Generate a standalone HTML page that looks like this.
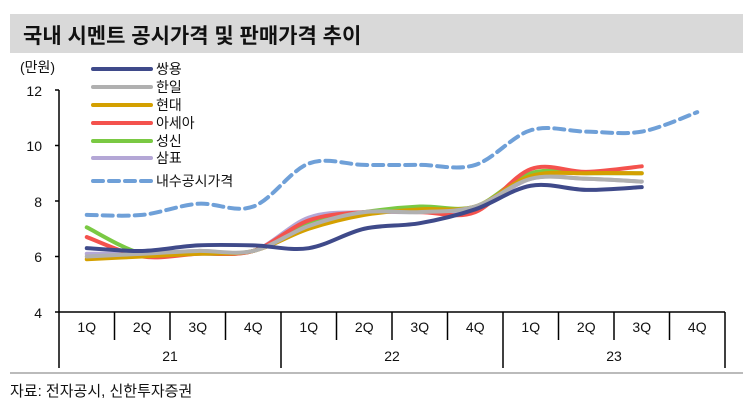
<!DOCTYPE html><html><head><meta charset="utf-8"><style>
body{margin:0;width:743px;height:411px;background:#fff;overflow:hidden;font-family:"Liberation Sans","Noto Sans CJK KR",sans-serif}
</style></head><body>
<svg id="s" width="743" height="411" xmlns="http://www.w3.org/2000/svg" font-family="Liberation Sans, Noto Sans CJK KR, sans-serif">
<rect x="10" y="14" width="733" height="39" fill="#d9d9d9"/>
<text x="23" y="43" font-size="21" font-weight="bold" fill="#111">국내 시멘트 공시가격 및 판매가격 추이</text>
<text x="20" y="72" font-size="14" fill="#111">(만원)</text>
<g font-size="14" fill="#111" text-anchor="end">
<text x="42" y="96">12</text><text x="42" y="151">10</text><text x="42" y="207">8</text><text x="42" y="262">6</text><text x="42" y="318">4</text></g>
<g stroke="#000" stroke-width="1.5" fill="none">
<line x1="59" y1="90" x2="59" y2="368"/><line x1="55" y1="90" x2="59" y2="90"/>
<line x1="55" y1="145.5" x2="59" y2="145.5"/><line x1="55" y1="201" x2="59" y2="201"/><line x1="55" y1="256.5" x2="59" y2="256.5"/>
<line x1="55" y1="312" x2="725" y2="312"/>
<line x1="725" y1="312" x2="725" y2="368"/>
<line x1="281" y1="312" x2="281" y2="368"/><line x1="503" y1="312" x2="503" y2="368"/>
</g>
<g id="ticks"></g>
<line x1="10" y1="373" x2="743" y2="373" stroke="#bbb" stroke-width="2"/>
<text x="10" y="396" font-size="15" fill="#111">자료: 전자공시, 신한투자증권</text>
<g id="lines"></g>
<g id="leg" font-size="14" fill="#111"></g>
</svg>
<script>
var ns="http://www.w3.org/2000/svg",s=document.getElementById('s');
function el(t,a,p,txt){var e=document.createElementNS(ns,t);for(var k in a)e.setAttribute(k,a[k]);if(txt)e.textContent=txt;document.getElementById(p).appendChild(e);}
var X=i=>59+27.75+55.5*i,Y=v=>312-(v-4)*27.75;
for(var i=0;i<12;i++){if(i%4)el('line',{x1:59+55.5*i,y1:312,x2:59+55.5*i,y2:340,stroke:'#000','stroke-width':1.5},'ticks');
el('text',{x:X(i),y:332,'font-size':14,'text-anchor':'middle',fill:'#111'},'ticks',(i%4+1)+'Q');}
['21','22','23'].forEach((t,j)=>el('text',{x:170+222*j,y:361,'font-size':14,'text-anchor':'middle',fill:'#111'},'ticks',t));
var S=[
['내수공시가격','#6fa0d8',[7.5,7.5,7.9,7.8,9.35,9.3,9.3,9.3,10.55,10.5,10.5,11.2],1],
['삼표','#b4a7d6',[6.1,6.1,6.2,6.2,7.4,7.6,7.6,7.7,8.8,8.8,8.7]],
['성신','#7ac943',[7.05,6.1,6.1,6.2,7.2,7.6,7.8,7.8,9.0,9.0,9.0]],
['아세아','#f4524d',[6.7,6.0,6.1,6.2,7.3,7.6,7.6,7.6,9.15,9.05,9.25]],
['현대','#d4a000',[5.9,6.0,6.1,6.2,7.0,7.5,7.7,7.8,8.9,9.0,9.0]],
['한일','#b0b0b0',[6.0,6.1,6.2,6.2,7.1,7.6,7.6,7.8,8.8,8.8,8.7]],
['쌍용','#3f4a8a',[6.3,6.2,6.4,6.4,6.3,7.0,7.2,7.7,8.55,8.4,8.5]]];
S.forEach(function(q){var p=q[2].map((v,i)=>[X(i),Y(v)]),d='M'+p[0];
for(var i=0;i<p.length-1;i++){var a=p[i-1]||p[i],b=p[i],c=p[i+1],e=p[i+2]||c;
d+='C'+(b[0]+(c[0]-a[0])/6)+','+(b[1]+(c[1]-a[1])/6)+' '+(c[0]-(e[0]-b[0])/6)+','+(c[1]-(e[1]-b[1])/6)+' '+c;}
var at={d:d,fill:'none',stroke:q[1],'stroke-width':4,'stroke-linecap':'round'};if(q[3])at['stroke-dasharray']='10,6';
el('path',at,'lines');});
var ly=[69,87,105,123,141,158,181];
S.slice().reverse().forEach(function(q,i){var at={x1:93,x2:151,y1:ly[i],y2:ly[i],stroke:q[1],'stroke-width':4,'stroke-linecap':'round'};if(q[3])at['stroke-dasharray']='10,6';
el('line',at,'leg');el('text',{x:156,y:ly[i]+5},'leg',q[0]);});
</script>
</body></html>
